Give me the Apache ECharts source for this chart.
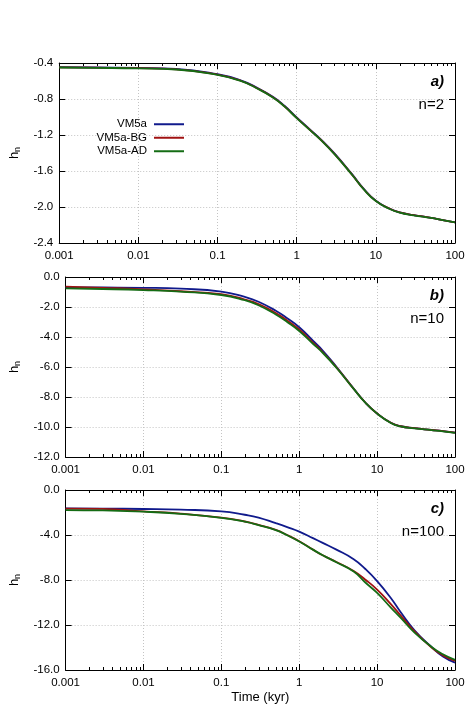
<!DOCTYPE html>
<html>
<head>
<meta charset="utf-8">
<script src="https://cdn.jsdelivr.net/npm/echarts@6/dist/echarts.min.js"></script>
<style>html,body{margin:0;padding:0;background:#fff}#c{width:474px;height:711px}</style>
</head>
<body>
<div id="c"></div>
<script>
// ---- data ----
const TIME = [0.001, 0.003, 0.01, 0.03, 0.1, 0.2, 0.3, 0.5, 0.7, 1, 1.5, 2, 3, 5, 7, 10, 15, 20, 30, 50, 70, 100];
const X_TICKS = ['0.001', '0.01', '0.1', '1', '10', '100'];
const SERIES_NAMES = ['VM5a', 'VM5a-BG', 'VM5a-AD'];

// panel a) n=2
const A_VM5a   = [-0.446, -0.450, -0.455, -0.466, -0.525, -0.595, -0.665, -0.775, -0.875, -1.005, -1.145, -1.245, -1.405, -1.635, -1.795, -1.930, -2.020, -2.060, -2.090, -2.120, -2.145, -2.170];
const A_VM5aBG = [-0.448, -0.452, -0.458, -0.470, -0.530, -0.600, -0.670, -0.780, -0.880, -1.010, -1.150, -1.250, -1.410, -1.640, -1.800, -1.932, -2.020, -2.060, -2.090, -2.120, -2.145, -2.170];
const A_VM5aAD = [-0.450, -0.454, -0.460, -0.472, -0.532, -0.602, -0.672, -0.782, -0.882, -1.012, -1.152, -1.252, -1.412, -1.642, -1.802, -1.934, -2.022, -2.062, -2.092, -2.122, -2.147, -2.172];

// panel b) n=10
const B_VM5a   = [-0.69, -0.70, -0.72, -0.78, -0.97, -1.33, -1.65, -2.25, -2.75, -3.35, -4.25, -4.90, -5.98, -7.44, -8.35, -9.10, -9.72, -9.95, -10.08, -10.20, -10.28, -10.38];
const B_VM5aBG = [-0.64, -0.72, -0.82, -0.95, -1.15, -1.50, -1.80, -2.40, -2.90, -3.50, -4.38, -5.00, -6.02, -7.45, -8.35, -9.10, -9.72, -9.95, -10.08, -10.20, -10.28, -10.38];
const B_VM5aAD = [-0.76, -0.80, -0.87, -0.98, -1.20, -1.55, -1.88, -2.50, -3.00, -3.60, -4.45, -5.05, -6.05, -7.46, -8.36, -9.11, -9.73, -9.96, -10.09, -10.21, -10.29, -10.39];

// panel c) n=100
const C_VM5a   = [-1.63, -1.65, -1.69, -1.75, -1.90, -2.20, -2.45, -2.95, -3.30, -3.70, -4.28, -4.70, -5.30, -6.15, -7.00, -8.10, -9.60, -10.85, -12.45, -13.95, -14.80, -15.35];
const C_VM5aBG = [-1.65, -1.68, -1.90, -2.10, -2.45, -2.80, -3.10, -3.55, -4.00, -4.55, -5.30, -5.80, -6.40, -7.20, -7.95, -8.85, -10.15, -11.15, -12.55, -14.00, -14.70, -15.20];
const C_VM5aAD = [-1.78, -1.82, -1.93, -2.12, -2.47, -2.82, -3.12, -3.57, -4.02, -4.57, -5.30, -5.80, -6.42, -7.25, -8.20, -9.15, -10.45, -11.35, -12.65, -13.95, -14.60, -15.10];

const PANEL_LABELS = ['a)', 'b)', 'c)'];
const PANEL_N = ['n=2', 'n=10', 'n=100'];
const Y_RANGES = [[-2.4, -0.4, 0.4], [-12, 0, 2], [-16, 0, 4]];
const PANEL_DATA = [[A_VM5a, A_VM5aBG, A_VM5aAD], [B_VM5a, B_VM5aBG, B_VM5aAD], [C_VM5a, C_VM5aBG, C_VM5aAD]];

// minor log tick positions (2..9 per decade)
const MINOR_TICKS = [];
for (let d = -3; d <= 1; d++) for (let k = 2; k <= 9; k++) MINOR_TICKS.push(+(k * Math.pow(10, d)).toPrecision(3));

// ---- chart ----
const COLORS = ['#101a8c', '#a01212', '#146c14'];
const FONT = 'Liberation Sans, Arial, sans-serif';
const GRID_TOPS = [63, 277, 490];
const chart = echarts.init(document.getElementById('c'), null, {renderer: 'canvas'});

const grids = [], xAxes = [], yAxes = [], series = [], graphics = [];
GRID_TOPS.forEach((top, i) => {
  grids.push({left: 50, top: top, width: 405, height: 180, containLabel: false});
  const [ymin, ymax, yint] = Y_RANGES[i];
  xAxes.push({
    type: 'log', logBase: 10, gridIndex: i, min: 0.001, max: 100, splitNumber: 5, position: 'bottom',
    axisLine: {show: true, onZero: false, lineStyle: {color: '#000', width: 1}},
    axisTick: {show: true, inside: true, length: 6, lineStyle: {color: '#000'}},
    axisLabel: {show: true, margin: 7, color: '#000', fontSize: 11.5, fontFamily: FONT,
      formatter: v => X_TICKS[Math.round(Math.log10(v)) + 3]},
    splitLine: {show: true, lineStyle: {color: '#c4c4c4', type: [1, 2], width: 1}},
    name: i === 2 ? 'Time (kyr)' : '', nameLocation: 'middle', nameGap: 21,
    nameTextStyle: {color: '#000', fontSize: 13, fontFamily: FONT}
  });
  xAxes.push({
    type: 'log', logBase: 10, gridIndex: i, min: 0.001, max: 100, splitNumber: 5, position: 'top',
    axisLine: {show: true, onZero: false, lineStyle: {color: '#000', width: 1}},
    axisTick: {show: true, inside: true, length: 6, lineStyle: {color: '#000'}},
    axisLabel: {show: false}, splitLine: {show: false}
  });
  yAxes.push({
    type: 'value', gridIndex: i, min: ymin, max: ymax, interval: yint, position: 'left',
    axisLine: {show: true, onZero: false, lineStyle: {color: '#000', width: 1}},
    axisTick: {show: true, inside: true, length: 6, lineStyle: {color: '#000'}},
    axisLabel: {show: true, margin: 6, color: '#000', fontSize: 11.5, fontFamily: FONT,
      formatter: v => (Math.abs(v) < 1e-9 ? 0 : v).toFixed(1)},
    splitLine: {show: true, lineStyle: {color: '#c4c4c4', type: [1, 2], width: 1}},
    name: '{h|h}{n|n}', nameLocation: 'middle', nameRotate: 90, nameGap: 29,
    nameTextStyle: {color: '#000', fontFamily: FONT,
      rich: {h: {fontSize: 13, lineHeight: 16, fontFamily: FONT, color: '#000'},
             n: {fontSize: 9, lineHeight: 9, verticalAlign: 'bottom', fontFamily: FONT, color: '#000'}}}
  });
  yAxes.push({
    type: 'value', gridIndex: i, min: ymin, max: ymax, interval: yint, position: 'right',
    axisLine: {show: true, onZero: false, lineStyle: {color: '#000', width: 1}},
    axisTick: {show: true, inside: true, length: 6, lineStyle: {color: '#000'}},
    axisLabel: {show: false}, splitLine: {show: false}
  });
  PANEL_DATA[i].forEach((vals, s) => {
    series.push({
      type: 'line', name: SERIES_NAMES[s], xAxisIndex: 2 * i, yAxisIndex: 2 * i,
      data: TIME.map((t, k) => [t, vals[k]]), smooth: 0.5,
      showSymbol: false, symbol: 'none', lineStyle: {color: COLORS[s], width: 1.8},
      itemStyle: {color: COLORS[s]}, z: 3 + s, animation: false
    });
  });
  series.push({
    type: 'custom', xAxisIndex: 2 * i, yAxisIndex: 2 * i, silent: true, clip: false, z: 10,
    data: MINOR_TICKS.map(t => [t, ymin]),
    renderItem: (params, api) => {
      const p = api.coord([api.value(0), api.value(1)]);
      const cs = params.coordSys;
      const x = Math.round(p[0]) + 0.5;
      const b = cs.y + cs.height, t = cs.y;
      return {type: 'group', children: [
        {type: 'line', shape: {x1: x, y1: b, x2: x, y2: b - 3}, style: {stroke: '#000', lineWidth: 1}},
        {type: 'line', shape: {x1: x, y1: t, x2: x, y2: t + 3}, style: {stroke: '#000', lineWidth: 1}}
      ]};
    },
    animation: false
  });
  graphics.push({type: 'text', right: 474 - 444, top: top + 11,
    style: {text: PANEL_LABELS[i], font: 'italic bold 15px ' + FONT, fill: '#000', textAlign: 'right'}});
  graphics.push({type: 'text', right: 474 - 444, top: top + 34,
    style: {text: PANEL_N[i], font: '15px ' + FONT, fill: '#000', textAlign: 'right'}});
});

chart.setOption({
  animation: false,
  backgroundColor: '#fff',
  grid: grids, xAxis: xAxes, yAxis: yAxes, series: series, graphic: graphics,
  legend: {
    data: SERIES_NAMES, orient: 'vertical', right: 285, top: 113, align: 'right',
    icon: 'rect', itemWidth: 30, itemHeight: 2, itemGap: 1,
    textStyle: {color: '#000', fontSize: 11.5, fontFamily: FONT, lineHeight: 12.5, padding: [0, 2, 0, 0]},
    selectedMode: false
  }
});
</script>
</body>
</html>
